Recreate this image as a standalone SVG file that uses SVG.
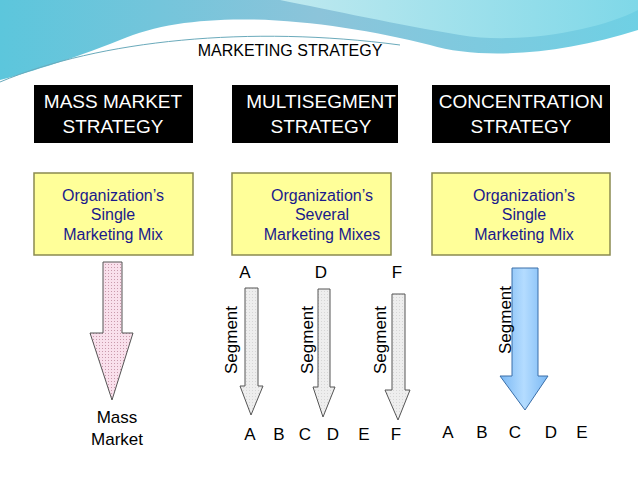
<svg xmlns="http://www.w3.org/2000/svg" width="638" height="479" viewBox="0 0 638 479">
<defs>
<linearGradient id="bg" x1="0" y1="0" x2="1" y2="0"><stop offset="0" stop-color="#5cc6dc"/><stop offset="0.5" stop-color="#8cc4da"/><stop offset="1" stop-color="#6fd0e4"/></linearGradient>
<linearGradient id="bg2" x1="0" y1="0" x2="1" y2="0"><stop offset="0" stop-color="#bfe9ef"/><stop offset="1" stop-color="#7fd8e8"/></linearGradient>
<pattern id="dots" width="3" height="3" patternUnits="userSpaceOnUse"><rect width="3" height="3" fill="#f9e0ec"/><rect width="1" height="1" fill="#c99aac"/></pattern>
<pattern id="grey" width="3" height="3" patternUnits="userSpaceOnUse"><rect width="3" height="3" fill="#eeeeee"/><rect width="1" height="1" fill="#d6d6d6"/></pattern>
<linearGradient id="blue" x1="0" y1="0" x2="1" y2="0"><stop offset="0" stop-color="#7ab8f4"/><stop offset="0.5" stop-color="#b4dcff"/><stop offset="1" stop-color="#7ab8f4"/></linearGradient>
</defs>
<style>
text{font-family:"Liberation Sans",Arial,sans-serif;}
.hd{fill:#000;}
.hdt{fill:#fff;font-size:19px;text-anchor:middle;}
.yb{fill:#ffff99;stroke:#8a8a50;stroke-width:1.5;}
.ybt{fill:#1a1a8c;font-size:16px;text-anchor:middle;}
.lt{font-size:17px;text-anchor:middle;fill:#000;}
.ar{stroke:#555;stroke-width:1;}
</style>
<rect width="638" height="479" fill="#fff"/>
<path d="M0 0 H638 V30 C560 55 480 60 430 45 C330 20 200 5 120 40 C70 60 20 75 0 80 Z" fill="url(#bg)"/>
<path d="M280 0 H638 V10 C600 30 520 45 460 35 C400 25 330 10 280 0 Z" fill="url(#bg2)"/>
<path d="M0 82 C100 40 250 25 400 45" fill="none" stroke="#6aaabb" stroke-width="1"/>
<text x="290" y="56" font-size="16" text-anchor="middle">MARKETING STRATEGY</text>
<g id="h1"><rect class="hd" x="34" y="85" width="159" height="58"/><text class="hdt" x="113" y="108">MASS MARKET</text><text class="hdt" x="113" y="133">STRATEGY</text></g>
<g id="h2"><rect class="hd" x="232" y="85" width="166" height="58"/><text class="hdt" x="321" y="108">MULTISEGMENT</text><text class="hdt" x="321" y="133">STRATEGY</text></g>
<g id="h3"><rect class="hd" x="432" y="85" width="178" height="58"/><text class="hdt" x="521" y="108">CONCENTRATION</text><text class="hdt" x="521" y="133">STRATEGY</text></g>
<g id="y1"><rect class="yb" x="34" y="173" width="159" height="82"/><text class="ybt" x="113" y="201">Organization’s</text><text class="ybt" x="113" y="220">Single</text><text class="ybt" x="113" y="240">Marketing Mix</text></g>
<g id="y2"><rect class="yb" x="232" y="173" width="159" height="82"/><text class="ybt" x="322" y="201">Organization’s</text><text class="ybt" x="322" y="220">Several</text><text class="ybt" x="322" y="240">Marketing Mixes</text></g>
<g id="y3"><rect class="yb" x="432" y="173" width="178" height="82"/><text class="ybt" x="524" y="201">Organization’s</text><text class="ybt" x="524" y="220">Single</text><text class="ybt" x="524" y="240">Marketing Mix</text></g>
<g id="connectors">
<path class="ar" d="M103 262 H122 V333 H133 L112 400 L90 333 H103 Z" fill="url(#dots)"/>
<path class="ar" d="M245 288 H258 V386 H263 L251 415 L240 386 H245 Z" fill="url(#grey)"/>
<path class="ar" d="M318 289 H330 V387 H335 L323 417 L313 387 H318 Z" fill="url(#grey)"/>
<path class="ar" d="M392 294 H405 V390 H410 L398 420 L385 390 H392 Z" fill="url(#grey)"/>
<path d="M512 268 H538 V376 H548 L525 410 L500 376 H512 Z" fill="url(#blue)" stroke="#3a6ea8" stroke-width="1"/>
</g>
<g id="labels">
<text class="lt" transform="translate(237 340) rotate(-90)">Segment</text>
<text class="lt" transform="translate(313 340) rotate(-90)">Segment</text>
<text class="lt" transform="translate(386 340) rotate(-90)">Segment</text>
<text class="lt" transform="translate(511 320) rotate(-90)">Segment</text>
<text class="lt" x="245" y="278">A</text><text class="lt" x="321" y="278">D</text><text class="lt" x="397" y="278">F</text>
<text class="lt" x="117" y="423">Mass</text><text class="lt" x="117" y="445">Market</text>
<text class="lt" x="250" y="440">A</text><text class="lt" x="279" y="440">B</text><text class="lt" x="305" y="440">C</text><text class="lt" x="333" y="440">D</text><text class="lt" x="364" y="440">E</text><text class="lt" x="396" y="440">F</text>
<text class="lt" x="448" y="438">A</text><text class="lt" x="482" y="438">B</text><text class="lt" x="515" y="438">C</text><text class="lt" x="551" y="438">D</text><text class="lt" x="582" y="438">E</text>
</g>
</svg>
